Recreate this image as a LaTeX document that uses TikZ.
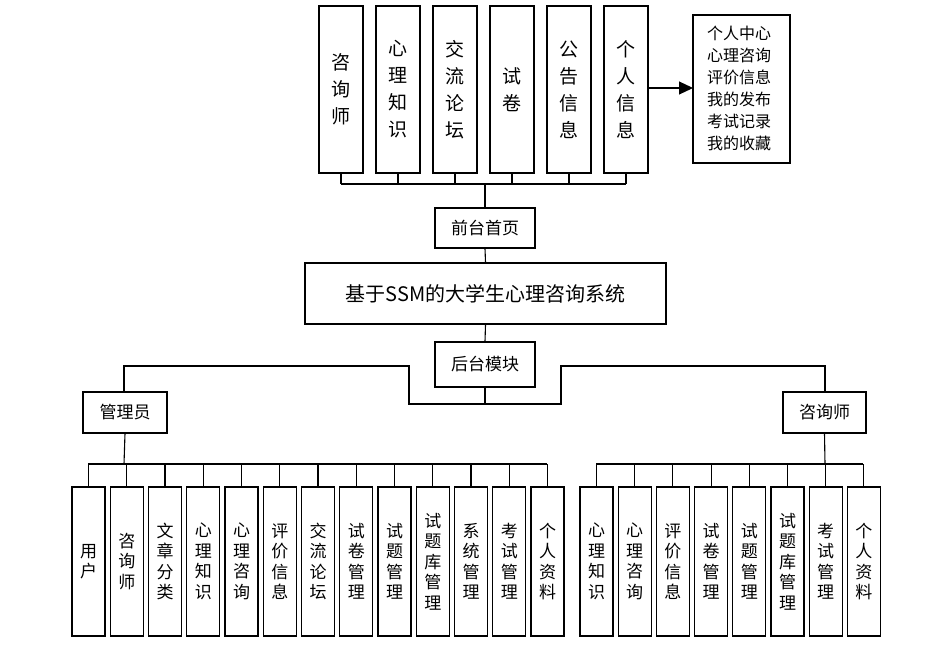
\documentclass[tikz,border=0pt]{standalone}
\usepackage{fontspec}
\setmainfont{Noto Sans CJK SC}
\usetikzlibrary{arrows.meta}
\begin{document}
\begin{tikzpicture}[x=1pt,y=-1pt,
  bx/.style={draw,line width=1.2pt,inner sep=0pt},
  ln/.style={line width=1.1pt},
  vt/.style={font=\fontsize{19}{27}\selectfont,align=center},
  vb/.style={font=\fontsize{17}{20.5}\selectfont,align=center}]
\useasboundingbox (0,0) rectangle (936,653);
% top boxes
\foreach \x/\t [count=\i] in {319/咨\\询\\师,376/心\\理\\知\\识,433/交\\流\\论\\坛,490/试\\卷,547/公\\告\\信\\息,604/个\\人\\信\\息}{
  \draw[bx] (\x,6) rectangle ++(44,167);
  \node[vt] (t\i) at (\x+22,89.5) {\t};
  \draw[ln] (\x+22,173) -- (\x+22,184);
}
\draw[ln] (341,184) -- (626,184);
\draw[bx] (693,15) rectangle (790,163);
\node[font=\fontsize{16}{22}\selectfont,align=left] (info) at (739,88) {个人中心\\心理咨询\\评价信息\\我的发布\\考试记录\\我的收藏};
\draw[ln,-{Triangle[length=14pt,width=13pt]}] (648,88) -- (693,88);
\node[bx,minimum width=100pt,minimum height=40pt,font=\fontsize{17}{18}\selectfont] (qt) at (485,228) {前台首页};
\draw[ln] (485,184) -- (qt.north);
\node[bx,minimum width=361pt,minimum height=61pt,font=\fontsize{20}{22}\selectfont] (sys) at (485.5,293.5) {基于SSM的大学生心理咨询系统};
\draw[ln] (qt.south) -- (sys.north);
\draw[ln] (124,392) -- (124,366) -- (409,366) -- (409,404) -- (561,404) -- (561,366) -- (825,366) -- (825,392);
\draw[ln] (485,387) -- (485,404);
\node[bx,fill=white,minimum width=100pt,minimum height=45pt,font=\fontsize{17}{18}\selectfont] (ht) at (485,364.5) {后台模块};
\draw[ln] (sys.south) -- (ht.north);
\node[bx,minimum width=84pt,minimum height=41pt,font=\fontsize{17}{18}\selectfont] (gly) at (125,412.5) {管理员};
\node[bx,minimum width=83pt,minimum height=41pt,font=\fontsize{17}{18}\selectfont] (zxs) at (824.5,412.5) {咨询师};
% bottom left
\draw[ln] (gly.south) -- (124,464);
\draw[ln] (88,464) -- (547,464);
\foreach \t [count=\i] in {用\\户,咨\\询\\师,文\\章\\分\\类,心\\理\\知\\识,心\\理\\咨\\询,评\\价\\信\\息,交\\流\\论\\坛,试\\卷\\管\\理,试\\题\\管\\理,试\\题\\库\\管\\理,系\\统\\管\\理,考\\试\\管\\理,个\\人\\资\\料}{
  \pgfmathsetmacro\xx{72+(\i-1)*38.25}
  \draw[bx] (\xx,487) rectangle ++(33,149);
  \node[vb] (l\i) at (\xx+16.5,561.5) {\t};
  \draw[ln] (\xx+16.5,464) -- (\xx+16.5,487);
}
% bottom right
\draw[ln] (zxs.south) -- (825,464);
\draw[ln] (596,464) -- (863,464);
\foreach \t [count=\i] in {心\\理\\知\\识,心\\理\\咨\\询,评\\价\\信\\息,试\\卷\\管\\理,试\\题\\管\\理,试\\题\\库\\管\\理,考\\试\\管\\理,个\\人\\资\\料}{
  \pgfmathsetmacro\xx{580+(\i-1)*38.2}
  \draw[bx] (\xx,487) rectangle ++(33,149);
  \node[vb] (r\i) at (\xx+16.5,561.5) {\t};
  \draw[ln] (\xx+16.5,464) -- (\xx+16.5,487);
}
\end{tikzpicture}
\end{document}
